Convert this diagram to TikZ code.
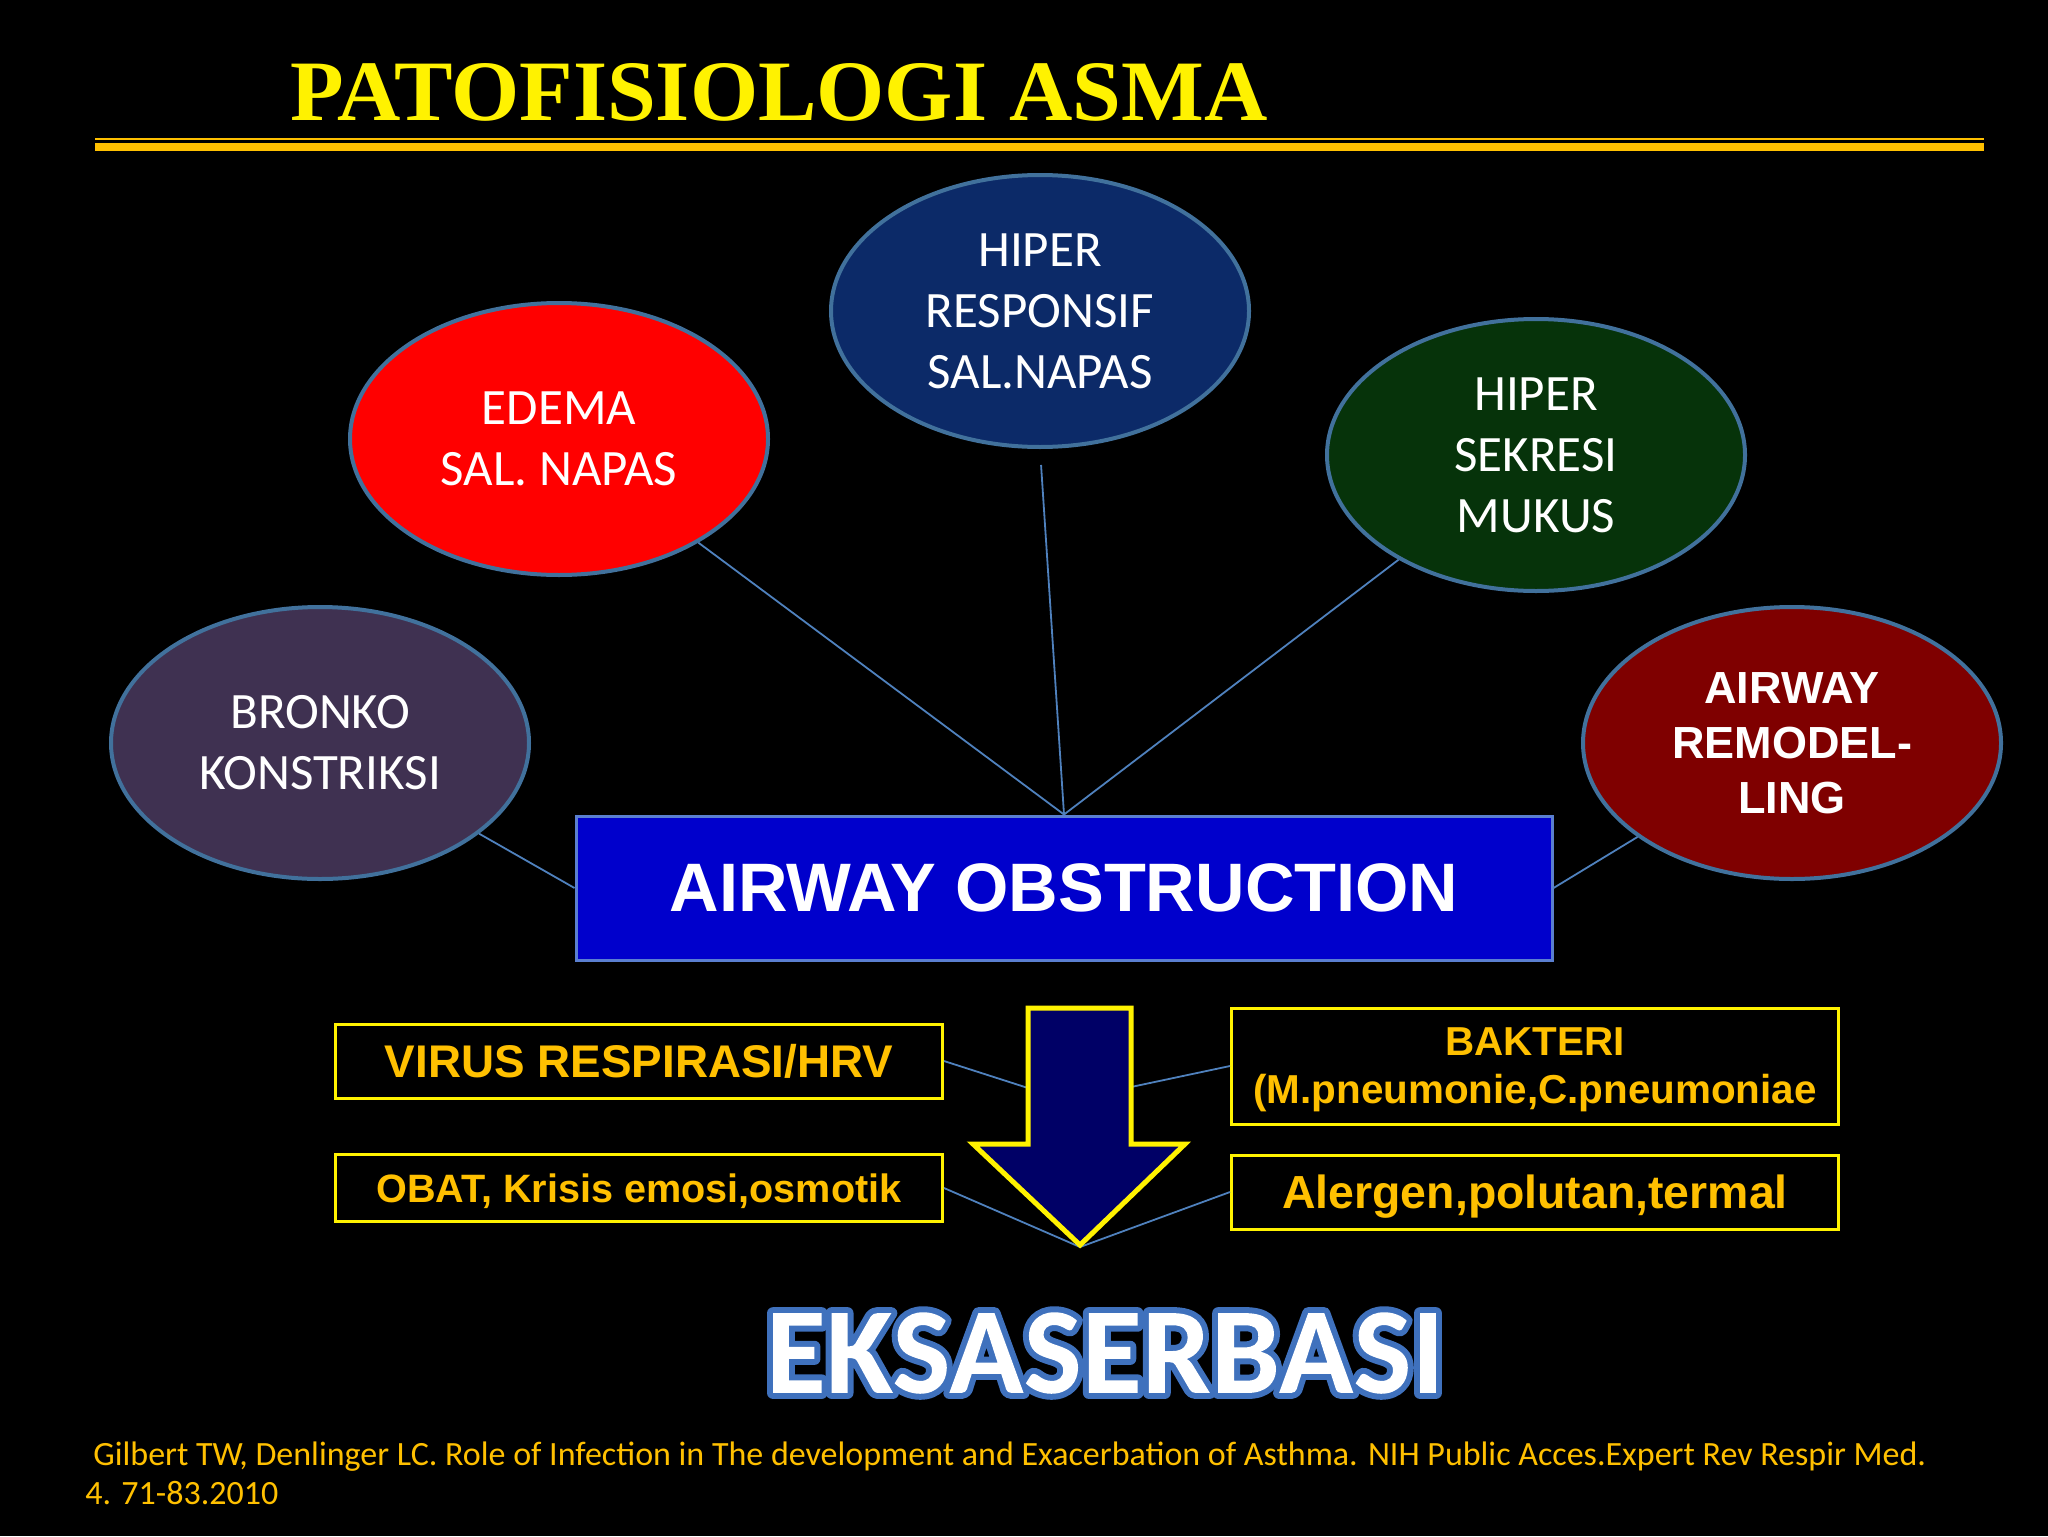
\documentclass[tikz,border=0pt]{standalone}
\usepackage{fontspec}
\usepackage{graphicx}
\usetikzlibrary{shapes.geometric}
\setmainfont{Carlito}
\newfontfamily\arialf{Liberation Sans}
\newfontfamily\titlef{Liberation Serif}
\definecolor{ellborder}{HTML}{41719C}
\definecolor{hrfill}{HTML}{0C2A68}
\definecolor{skfill}{HTML}{06330A}
\definecolor{brfill}{HTML}{3F3151}
\definecolor{rmfill}{HTML}{7F0000}
\definecolor{rectfill}{HTML}{0000CC}
\definecolor{rectborder}{HTML}{5A7FD0}
\definecolor{linkblue}{HTML}{4F81BD}
\definecolor{gold}{HTML}{FFC000}
\definecolor{boxtext}{HTML}{FFC000}
\definecolor{arrowfill}{HTML}{000066}
% outlined text: blue stroke (render mode 5 = stroke + clip), then white fill inside the glyphs
\newcommand\outlinedtext[1]{%
  \special{pdf:literal direct q 0.247 0.443 0.741 RG 0.247 0.443 0.741 rg 6 w 1 j 5 Tr}%
  #1%
  \special{pdf:literal 1 1 1 rg -3000 -600 6000 1200 re f}%
  \special{pdf:literal direct Q}}
\begin{document}
\begin{tikzpicture}[x=0.5pt,y=-0.5pt,
  bubble/.style={ellipse, draw=ellborder, line width=2pt, minimum width=209pt,
    minimum height=136pt, inner sep=0pt, text=white, align=center,
    font=\fontsize{25.5}{30.5}\selectfont},
  bubblebold/.style={bubble, font=\arialf\bfseries\fontsize{22.5}{27.5}\selectfont},
  link/.style={draw=linkblue, line width=0.9pt},
  ybox/.style={draw=yellow, line width=1.5pt, fill=black, minimum width=303.5pt,
    inner sep=0pt, text=boxtext, align=center, text depth=0pt}]
\fill[black] (0,0) rectangle (2048,1536);
\useasboundingbox (0,0) rectangle (2048,1536);

% title
\node[anchor=north west, inner sep=0pt, text=yellow] (title) at (290,63)
  {\resizebox{488.5pt}{28.5pt}{\titlef\bfseries PATOFISIOLOGI ASMA}};
\draw[gold, line width=1.25pt] (95,139) -- (1984,139);
\draw[gold, line width=4pt] (95,146.7) -- (1984,146.7);

% bubbles
\node[bubble, fill=hrfill] (hr) at (1040,311) {HIPER\\RESPONSIF\\SAL.NAPAS};
\node[bubble, fill=red] (ed) at (559,439) {EDEMA\\SAL. NAPAS};
\node[bubble, fill=skfill] (sk) at (1536,455) {HIPER\\SEKRESI\\MUKUS};
\node[bubble, fill=brfill] (br) at (320,743) {BRONKO\\KONSTRIKSI};
\node[bubblebold, fill=rmfill] (rm) at (1792,743) {AIRWAY\\REMODEL-\\LING};

% central box
\node[draw=rectborder, line width=1.5pt, fill=rectfill, minimum width=488pt,
  minimum height=72pt, inner sep=0pt, text=white,
  font=\arialf\bfseries\fontsize{34.3}{40}\selectfont] (ao) at (1064,888) {AIRWAY OBSTRUCTION};

\draw[link] (ed) -- (ao.north);
\draw[link, shorten <=8pt] (hr.south) -- (ao.north);
\draw[link] (sk) -- (ao.north);
\draw[link] (br) -- (ao.west);
\draw[link] (rm) -- (ao.east);

% trigger boxes
\node[ybox, minimum height=37pt, font=\arialf\bfseries\fontsize{22.9}{27}\selectfont] (virus) at (639,1061) {VIRUS RESPIRASI/HRV};
\node[ybox, minimum height=33.5pt, font=\arialf\bfseries\fontsize{19.8}{24}\selectfont] (obat) at (639,1188) {OBAT, Krisis emosi,osmotik};
\node[ybox, minimum height=58pt, font=\arialf\bfseries\fontsize{20.2}{24}\selectfont] (bak) at (1535,1066) {BAKTERI\\(M.pneumonie,C.pneumoniae};
\node[ybox, minimum height=37pt, font=\arialf\bfseries\fontsize{23.2}{27}\selectfont] (alg) at (1535,1192) {Alergen,polutan,termal};

\coordinate (tip) at (1080,1247);
\coordinate (sl) at (1028,1088);
\coordinate (sr) at (1131,1087);
\draw[link] (virus.east) -- (sl);
\draw[link] (bak.west) -- (sr);
\draw[link] (obat.east) -- (tip);
\draw[link] (alg.west) -- (tip);

% big arrow
\draw[draw=yellow, line width=2.5pt, fill=arrowfill, line join=miter]
  (1028,1008) -- (1131,1008) -- (1131,1144) -- (1185,1144) -- (1080,1245)
  -- (973,1144) -- (1028,1144) -- cycle;

% result
\node[inner sep=0pt, font=\bfseries\fontsize{61.5}{62}\selectfont] (eks) at (1105,1353)
  {\outlinedtext{EKSASERBASI}};

% reference
\node[anchor=north west, inner sep=0pt, text=gold, align=left,
  font=\fontsize{17}{19.5}\selectfont] (ref) at (85,1441)
  {\hspace*{4pt}Gilbert TW, Denlinger LC. Role of Infection in The development and Exacerbation of Asthma. NIH Public Acces.Expert Rev Respir Med.\\4. 71-83.2010};
\end{tikzpicture}
\end{document}
